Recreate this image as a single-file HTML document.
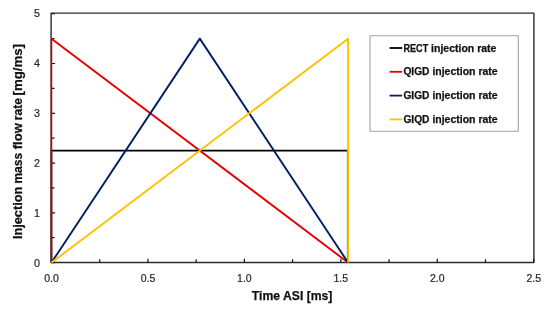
<!DOCTYPE html>
<html><head><meta charset="utf-8"><title>Injection rate</title>
<style>
html,body{margin:0;padding:0;background:#fff;}
svg{display:block}
text{font-family:"Liberation Sans",sans-serif;fill:#262626;}
.t{stroke:#262626;stroke-width:0.2px}
.b{font-weight:bold;fill:#111;stroke:#111;stroke-width:0.25px}
</style></head><body>
<svg width="550" height="312" viewBox="0 0 550 312">
<rect width="550" height="312" fill="#fff"/>
<rect x="51.1" y="13.15" width="482.80" height="249.30" fill="none" stroke="#2b2b2b" stroke-width="1.4" stroke-linejoin="round"/>
<path d="M51.50 262.3v-3.6 M99.72 262.3v-3.0 M147.94 262.3v-3.6 M196.16 262.3v-3.0 M244.38 262.3v-3.6 M292.60 262.3v-3.0 M340.82 262.3v-3.6 M389.04 262.3v-3.0 M437.26 262.3v-3.6 M485.48 262.3v-3.0 M533.70 262.3v-3.6 M51.5 262.60h3.6 M51.5 237.72h3.0 M51.5 212.83h3.6 M51.5 187.95h3.0 M51.5 163.06h3.6 M51.5 138.18h3.0 M51.5 113.29h3.6 M51.5 88.41h3.0 M51.5 63.52h3.6 M51.5 38.64h3.0 M51.5 13.75h3.6" stroke="#151515" stroke-width="1.2" fill="none"/>
<polyline points="51.50,262.60 51.50,150.62 347.71,150.62 347.71,262.60" fill="none" stroke="#000000" stroke-width="1.6" stroke-linejoin="round"/>
<polyline points="51.50,38.64 348.09,262.60" fill="none" stroke="#e80000" stroke-width="1.9" stroke-linejoin="round"/>
<line x1="51.50" x2="51.50" y1="262.60" y2="38.64" stroke="#c40000" stroke-width="1.5" stroke-linecap="round"/>
<polyline points="51.50,262.60 199.80,38.64 348.09,262.60" fill="none" stroke="#002060" stroke-width="1.9" stroke-linejoin="round"/>
<polyline points="51.50,262.60 348.09,38.64 348.09,262.60" fill="none" stroke="#ffc000" stroke-width="1.9" stroke-linejoin="round"/>
<text x="51.50" y="282" text-anchor="middle" class="t" font-size="10.5">0.0</text>
<text x="147.94" y="282" text-anchor="middle" class="t" font-size="10.5">0.5</text>
<text x="244.38" y="282" text-anchor="middle" class="t" font-size="10.5">1.0</text>
<text x="340.82" y="282" text-anchor="middle" class="t" font-size="10.5">1.5</text>
<text x="437.26" y="282" text-anchor="middle" class="t" font-size="10.5">2.0</text>
<text x="533.70" y="282" text-anchor="middle" class="t" font-size="10.5">2.5</text>
<text x="39.9" y="266.60" text-anchor="end" class="t" font-size="10.7">0</text>
<text x="39.9" y="216.65" text-anchor="end" class="t" font-size="10.7">1</text>
<text x="39.9" y="166.70" text-anchor="end" class="t" font-size="10.7">2</text>
<text x="39.9" y="116.75" text-anchor="end" class="t" font-size="10.7">3</text>
<text x="39.9" y="66.80" text-anchor="end" class="t" font-size="10.7">4</text>
<text x="39.9" y="16.85" text-anchor="end" class="t" font-size="10.7">5</text>
<text x="292.1" y="299.6" text-anchor="middle" class="b" font-size="12.2">Time ASI [ms]</text>
<text transform="translate(21.8 238.6) rotate(-90)" class="b" font-size="12.4"><tspan x="-0.50" textLength="52.40" lengthAdjust="spacingAndGlyphs">Injection</tspan> <tspan x="55.00" textLength="30.80" lengthAdjust="spacingAndGlyphs">mass</tspan> <tspan x="89.30" textLength="26.10" lengthAdjust="spacingAndGlyphs">flow</tspan> <tspan x="118.30" textLength="22.30" lengthAdjust="spacingAndGlyphs">rate</tspan> <tspan x="143.10" textLength="51.50" lengthAdjust="spacingAndGlyphs">[mg/ms]</tspan></text>
<rect x="370" y="35.75" width="148.3" height="95.45" fill="#fff" stroke="#a3a3a3" stroke-width="1.1" stroke-linejoin="round"/>
<line x1="389.6" x2="402.2" y1="48.00" y2="48.00" stroke="#000000" stroke-width="1.8"/>
<text x="403.4" y="51.60" class="b" font-size="10.2"><tspan textLength="24.8" lengthAdjust="spacingAndGlyphs">RECT</tspan><tspan textLength="68.2" lengthAdjust="spacingAndGlyphs"> injection rate</tspan></text>
<line x1="389.6" x2="402.2" y1="71.80" y2="71.80" stroke="#e80000" stroke-width="1.8"/>
<text x="403.4" y="75.35" class="b" font-size="10.2"><tspan textLength="26.07" lengthAdjust="spacingAndGlyphs">QIGD</tspan><tspan textLength="68.2" lengthAdjust="spacingAndGlyphs"> injection rate</tspan></text>
<line x1="389.6" x2="402.2" y1="95.60" y2="95.60" stroke="#002060" stroke-width="1.8"/>
<text x="403.4" y="99.10" class="b" font-size="10.2"><tspan textLength="26.07" lengthAdjust="spacingAndGlyphs">GIGD</tspan><tspan textLength="68.2" lengthAdjust="spacingAndGlyphs"> injection rate</tspan></text>
<line x1="389.6" x2="402.2" y1="119.40" y2="119.40" stroke="#ffc000" stroke-width="1.8"/>
<text x="403.4" y="122.85" class="b" font-size="10.2"><tspan textLength="26.07" lengthAdjust="spacingAndGlyphs">GIQD</tspan><tspan textLength="68.2" lengthAdjust="spacingAndGlyphs"> injection rate</tspan></text>
</svg>
</body></html>
